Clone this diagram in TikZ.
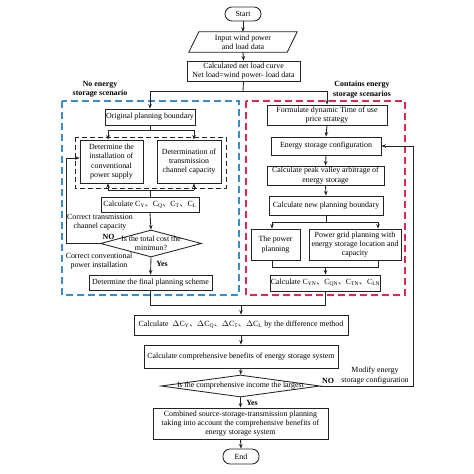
\documentclass[tikz,border=0pt]{standalone}
\usepackage{fontspec}
\setmainfont{Liberation Serif}
\newfontfamily\cjk{Noto Sans CJK SC}
\usetikzlibrary{arrows.meta,calc,shapes.geometric}
\definecolor{dblue}{RGB}{60,140,200}
\definecolor{dred}{RGB}{220,40,80}
\definecolor{lnc}{RGB}{35,35,35}
\newcommand{\pdun}{{\cjk 、}}
\begin{document}
\begin{tikzpicture}[x=1pt,y=-1pt,
  every node/.style={font=\fontsize{7.9}{9.3}\selectfont, text=black},
  box/.style={draw=lnc, line width=0.85pt, align=center, inner sep=0pt},
  wire/.style={draw=lnc, line width=0.85pt},
  arr/.style={-{Stealth[length=4.5pt,width=3.6pt]}, draw=lnc, line width=0.85pt},
  lbl/.style={align=center, inner sep=0pt},
  blbl/.style={align=center, inner sep=0pt, font=\fontsize{7.9}{9.3}\selectfont\bfseries},
  dia/.style={diamond, draw=lnc, line width=0.85pt, inner sep=0pt},
]
\useasboundingbox (0,0) rectangle (474,474);
\fill[white] (0,0) rectangle (474,474);

% top
\node[box, rounded corners=7pt, minimum width=36pt, minimum height=14pt] (start) at (243,14) {Start};
\node[lbl, minimum width=98pt, minimum height=20pt] (input) at (243,42) {Input wind power\\and load data};
\draw[wire] ($(input.north west)+(5,0)$) -- ($(input.north east)+(5,0)$) -- ($(input.south east)+(-5,0)$) -- ($(input.south west)+(-5,0)$) -- cycle;
\node[box, minimum width=113pt, minimum height=20pt] (net) at (243.5,71) {Calculated net load curve\\Net load=wind power- load data};
\draw[arr] (start.south) -- (input.north);
\draw[arr] (input.south) -- (net.north);

% regions
\draw[dblue, line width=1.3pt, dash pattern=on 7pt off 4pt] (62,101) rectangle (239,295);
\draw[dred, line width=1.3pt, dash pattern=on 7pt off 4pt] (246,101) rectangle (405,295);
\node[blbl] (lno) at (100,89.5) {No energy\\storage scenario};
\node[blbl] (lyes) at (362,89.5) {Contains energy\\storage scenarios};

% left column
\node[box, minimum width=90pt, minimum height=16pt] (orig) at (150,117) {Original planning boundary};
\draw[lnc, line width=0.9pt, dash pattern=on 5pt off 3pt] (75,137) rectangle (226,188);
\node[box, minimum width=63pt, minimum height=43pt] (inst) at (111.5,161.5) {Determine the\\installation of\\conventional\\power supply};
\node[box, minimum width=64pt, minimum height=43pt] (trans) at (189,161.5) {Determination of\\transmission\\channel capacity};
\node[box, minimum width=98pt, minimum height=15pt] (calc) at (150,205) {Calculate C\textsubscript{Y}\pdun C\textsubscript{Q}\pdun C\textsubscript{T}\pdun C\textsubscript{L}};
\node[dia, minimum width=101pt, minimum height=27pt] (d1) at (151,243.5) {};
\node[lbl] (d1t) at (151,243) {Is the total cost the\\minimun?};
\node[box, minimum width=123pt, minimum height=15pt] (final) at (150.5,282.5) {Determine the final planning scheme};

\coordinate (s0) at (243,91);
\draw[wire] (net.south) -- (s0);
\draw[arr] (s0) -| (orig.north);
\coordinate (os) at (150,130);
\coordinate (osl) at (108,130);
\coordinate (osr) at (194,130);
\draw[wire] (orig.south) -- (os);
\draw[wire] (osl) -- (osr);
\draw[arr] (osl) -- (osl |- inst.north);
\draw[arr] (osr) -- (osr |- trans.north);
\coordinate (cbl) at (108,190);
\coordinate (cbr) at (194,190);
\draw[wire] (cbl) -- (cbr);
\draw[arr] (cbl) -- (cbl |- inst.south);
\draw[arr] (cbr) -- (cbr |- trans.south);
\draw[wire] (calc.north) -- (calc.north |- cbl);
\draw[arr] (calc.south) -- (d1.north);
\coordinate (lp) at (66,243.5);
\coordinate (lpt) at (66,158);
\draw[arr] (d1.west) -- (lp) -- (lpt) -- (lpt -| inst.west);
\draw[arr] (d1.south) -- (final.north);
\node[blbl] (no1) at (108.5,237) {NO};
\node[blbl] (yes1) at (162,264) {Yes};
\node[lbl] (ct) at (100,222.5) {Correct transmission\\channel capacity};
\node[lbl] (cc) at (99,261) {Correct conventional\\power installation};

% right column
\node[box, minimum width=120pt, minimum height=20pt] (form) at (327,115) {Formulate dynamic Time of use\\price strategy};
\node[box, minimum width=110pt, minimum height=18pt] (esc) at (326,146) {Energy storage configuration};
\node[box, minimum width=117pt, minimum height=19pt] (peak) at (325.5,175.5) {Calculate peak valley arbitrage of\\energy storage};
\node[box, minimum width=114pt, minimum height=19pt] (newpb) at (326,205.5) {Calculate new planning boundary};
\node[box, minimum width=49pt, minimum height=31pt] (pp) at (275.5,244.5) {The power\\planning};
\node[box, minimum width=92pt, minimum height=31pt] (pg) at (355,244.5) {Power grid planning with\\energy storage location and\\capacity};
\node[box, minimum width=109pt, minimum height=16pt] (cyn) at (325.5,283) {Calculate C\textsubscript{YN}\pdun C\textsubscript{QN}\pdun C\textsubscript{TN}\pdun C\textsubscript{LN}};

\draw[arr] (s0) -| (form.north);
\draw[arr] (form.south) -- (esc.north);
\draw[arr] (esc.south) -- (peak.north);
\draw[arr] (peak.south) -- (newpb.north);
\coordinate (rs) at (326,222);
\coordinate (rsl) at (272,222);
\coordinate (rsr) at (378,222);
\draw[wire] (newpb.south) -- (rs);
\draw[wire] (rsl) -- (rsr);
\draw[arr] (rsl) -- (rsl |- pp.north);
\draw[arr] (rsr) -- (rsr |- pg.north);
\coordinate (rbl) at (272,267);
\coordinate (rbr) at (378,267);
\draw[wire] (rbl |- pp.south) -- (rbl) -- (rbr) -- (rbr |- pg.south);
\draw[arr] (cyn.north |- rbl) -- (cyn.north);

% merge
\coordinate (m) at (241,305);
\coordinate (mr) at (cyn.south |- m);
\draw[wire] (final.south) |- (mr);
\draw[wire] (cyn.south) -- (mr);

% bottom
\node[box, minimum width=214pt, minimum height=20pt] (dC) at (241,325) {Calculate \ $\Delta$C\textsubscript{Y}\pdun $\Delta$C\textsubscript{Q}\pdun $\Delta$C\textsubscript{T}\pdun $\Delta$C\textsubscript{L} by the difference method};
\node[box, minimum width=194pt, minimum height=23pt] (ben) at (241,356.5) {Calculate comprehensive benefits of energy storage system};
\node[dia, minimum width=159pt, minimum height=22pt] (d2) at (240.5,386) {};
\node[lbl] (d2t) at (240.5,386) {Is the comprehensive income the largest};
\node[box, minimum width=175pt, minimum height=31pt] (comb) at (240.5,423.5) {Combined source-storage-transmission planning\\taking into account the comprehensive benefits of\\energy storage system};
\node[box, rounded corners=7pt, minimum width=36pt, minimum height=15pt] (endn) at (241,456.5) {End};

\draw[arr] (m) -- (dC.north);
\draw[arr] (dC.south) -- (ben.north);
\draw[arr] (ben.south) -- (d2.north);
\draw[arr] (d2.south) -- (comb.north);
\draw[arr] (comb.south) -- (endn.north);
\coordinate (rr) at (413,386);
\draw[arr] (d2.east) -- (rr) |- (esc.east);
\node[blbl] (no2) at (328,381) {NO};
\node[blbl] (yes2) at (252,403) {Yes};
\node[lbl] (mod) at (375,375.5) {Modify energy\\storage configuration};
\end{tikzpicture}
\end{document}
